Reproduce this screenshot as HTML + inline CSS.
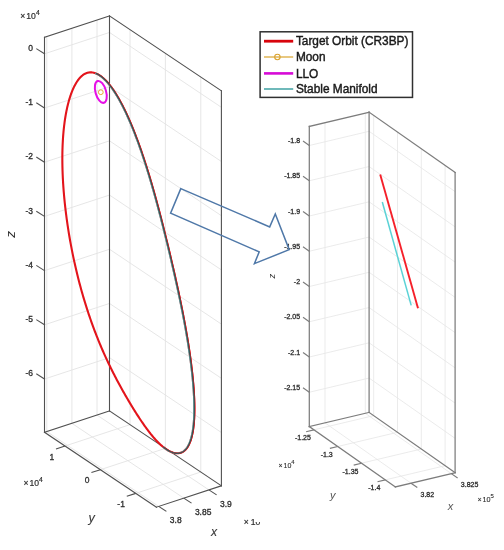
<!DOCTYPE html>
<html><head><meta charset="utf-8"><title>Orbit figure</title>
<style>
html,body{margin:0;padding:0;background:#fff;}
body{width:504px;height:550px;overflow:hidden;}
svg{display:block;}
text{font-family:"Liberation Sans",sans-serif;}
</style></head>
<body>
<svg width="504" height="550" viewBox="0 0 504 550">
<defs><clipPath id="clipx5"><path d="M0,0 H254.6 V522 H504 V550 H0 Z"/></clipPath></defs>
<rect width="504" height="550" fill="#fff"/>
<g>
<g fill="none">
<line x1="46.8" y1="36.54" x2="46.8" y2="431.54" stroke="#e3e3e3" stroke-width="0.9"/>
<line x1="71.9" y1="28.3" x2="71.9" y2="423.3" stroke="#e3e3e3" stroke-width="0.9"/>
<line x1="97" y1="20.06" x2="97" y2="415.06" stroke="#e3e3e3" stroke-width="0.9"/>
<line x1="44.5" y1="53.8" x2="109.5" y2="32.45" stroke="#e3e3e3" stroke-width="0.9"/>
<line x1="44.5" y1="108" x2="109.5" y2="86.65" stroke="#e3e3e3" stroke-width="0.9"/>
<line x1="44.5" y1="162.2" x2="109.5" y2="140.85" stroke="#e3e3e3" stroke-width="0.9"/>
<line x1="44.5" y1="216.4" x2="109.5" y2="195.05" stroke="#e3e3e3" stroke-width="0.9"/>
<line x1="44.5" y1="270.6" x2="109.5" y2="249.25" stroke="#e3e3e3" stroke-width="0.9"/>
<line x1="44.5" y1="324.8" x2="109.5" y2="303.45" stroke="#e3e3e3" stroke-width="0.9"/>
<line x1="44.5" y1="379" x2="109.5" y2="357.65" stroke="#e3e3e3" stroke-width="0.9"/>
<line x1="130" y1="29.66" x2="130" y2="424.66" stroke="#e3e3e3" stroke-width="0.9"/>
<line x1="165.4" y1="53.34" x2="165.4" y2="448.34" stroke="#e3e3e3" stroke-width="0.9"/>
<line x1="200.8" y1="77.02" x2="200.8" y2="472.02" stroke="#e3e3e3" stroke-width="0.9"/>
<line x1="109.5" y1="32.45" x2="221.4" y2="107.3" stroke="#e3e3e3" stroke-width="0.9"/>
<line x1="109.5" y1="86.65" x2="221.4" y2="161.5" stroke="#e3e3e3" stroke-width="0.9"/>
<line x1="109.5" y1="140.85" x2="221.4" y2="215.7" stroke="#e3e3e3" stroke-width="0.9"/>
<line x1="109.5" y1="195.05" x2="221.4" y2="269.9" stroke="#e3e3e3" stroke-width="0.9"/>
<line x1="109.5" y1="249.25" x2="221.4" y2="324.1" stroke="#e3e3e3" stroke-width="0.9"/>
<line x1="109.5" y1="303.45" x2="221.4" y2="378.3" stroke="#e3e3e3" stroke-width="0.9"/>
<line x1="109.5" y1="357.65" x2="221.4" y2="432.5" stroke="#e3e3e3" stroke-width="0.9"/>
<line x1="46.8" y1="431.54" x2="158.7" y2="506.39" stroke="#e3e3e3" stroke-width="0.9"/>
<line x1="71.9" y1="423.3" x2="183.8" y2="498.15" stroke="#e3e3e3" stroke-width="0.9"/>
<line x1="97" y1="415.06" x2="208.9" y2="489.91" stroke="#e3e3e3" stroke-width="0.9"/>
<line x1="65" y1="446.01" x2="130" y2="424.66" stroke="#e3e3e3" stroke-width="0.9"/>
<line x1="100.4" y1="469.69" x2="165.4" y2="448.34" stroke="#e3e3e3" stroke-width="0.9"/>
<line x1="135.8" y1="493.37" x2="200.8" y2="472.02" stroke="#e3e3e3" stroke-width="0.9"/>
</g>
<g stroke-linecap="square">
<line x1="44.5" y1="37.3" x2="44.5" y2="432.3" stroke="#505050" stroke-width="1.1"/>
<line x1="109.5" y1="15.95" x2="109.5" y2="410.95" stroke="#505050" stroke-width="1.1"/>
<line x1="221.4" y1="90.8" x2="221.4" y2="485.8" stroke="#505050" stroke-width="1.1"/>
<line x1="44.5" y1="37.3" x2="109.5" y2="15.95" stroke="#505050" stroke-width="1.1"/>
<line x1="109.5" y1="15.95" x2="221.4" y2="90.8" stroke="#505050" stroke-width="1.1"/>
<line x1="44.5" y1="432.3" x2="109.5" y2="410.95" stroke="#505050" stroke-width="1.1"/>
<line x1="109.5" y1="410.95" x2="221.4" y2="485.8" stroke="#505050" stroke-width="1.1"/>
<line x1="44.5" y1="432.3" x2="156.4" y2="507.15" stroke="#505050" stroke-width="1.1"/>
<line x1="156.4" y1="507.15" x2="221.4" y2="485.8" stroke="#505050" stroke-width="1.1"/>
</g>
<line x1="44.5" y1="53.8" x2="36.3" y2="48.6" stroke="#505050" stroke-width="1.1"/>
<text transform="translate(33,50.9) scale(1,1.12)" font-size="8.5" text-anchor="end" fill="#2e2e2e" font-family="&quot;Liberation Sans&quot;, sans-serif" stroke="#2e2e2e" stroke-width="0.3">0</text>
<line x1="44.5" y1="108" x2="36.3" y2="102.8" stroke="#505050" stroke-width="1.1"/>
<text transform="translate(33,105.1) scale(1,1.12)" font-size="8.5" text-anchor="end" fill="#2e2e2e" font-family="&quot;Liberation Sans&quot;, sans-serif" stroke="#2e2e2e" stroke-width="0.3">-1</text>
<line x1="44.5" y1="162.2" x2="36.3" y2="157" stroke="#505050" stroke-width="1.1"/>
<text transform="translate(33,159.3) scale(1,1.12)" font-size="8.5" text-anchor="end" fill="#2e2e2e" font-family="&quot;Liberation Sans&quot;, sans-serif" stroke="#2e2e2e" stroke-width="0.3">-2</text>
<line x1="44.5" y1="216.4" x2="36.3" y2="211.2" stroke="#505050" stroke-width="1.1"/>
<text transform="translate(33,213.5) scale(1,1.12)" font-size="8.5" text-anchor="end" fill="#2e2e2e" font-family="&quot;Liberation Sans&quot;, sans-serif" stroke="#2e2e2e" stroke-width="0.3">-3</text>
<line x1="44.5" y1="270.6" x2="36.3" y2="265.4" stroke="#505050" stroke-width="1.1"/>
<text transform="translate(33,267.7) scale(1,1.12)" font-size="8.5" text-anchor="end" fill="#2e2e2e" font-family="&quot;Liberation Sans&quot;, sans-serif" stroke="#2e2e2e" stroke-width="0.3">-4</text>
<line x1="44.5" y1="324.8" x2="36.3" y2="319.6" stroke="#505050" stroke-width="1.1"/>
<text transform="translate(33,321.9) scale(1,1.12)" font-size="8.5" text-anchor="end" fill="#2e2e2e" font-family="&quot;Liberation Sans&quot;, sans-serif" stroke="#2e2e2e" stroke-width="0.3">-5</text>
<line x1="44.5" y1="379" x2="36.3" y2="373.8" stroke="#505050" stroke-width="1.1"/>
<text transform="translate(33,376.1) scale(1,1.12)" font-size="8.5" text-anchor="end" fill="#2e2e2e" font-family="&quot;Liberation Sans&quot;, sans-serif" stroke="#2e2e2e" stroke-width="0.3">-6</text>
<line x1="65" y1="446.01" x2="56" y2="448.91" stroke="#505050" stroke-width="1.1"/>
<text transform="translate(54.1,459.71) scale(1,1.12)" font-size="8.5" text-anchor="end" fill="#2e2e2e" font-family="&quot;Liberation Sans&quot;, sans-serif" stroke="#2e2e2e" stroke-width="0.3">1</text>
<line x1="100.4" y1="469.69" x2="91.4" y2="472.59" stroke="#505050" stroke-width="1.1"/>
<text transform="translate(89.5,483.39) scale(1,1.12)" font-size="8.5" text-anchor="end" fill="#2e2e2e" font-family="&quot;Liberation Sans&quot;, sans-serif" stroke="#2e2e2e" stroke-width="0.3">0</text>
<line x1="135.8" y1="493.37" x2="126.8" y2="496.27" stroke="#505050" stroke-width="1.1"/>
<text transform="translate(124.9,507.07) scale(1,1.12)" font-size="8.5" text-anchor="end" fill="#2e2e2e" font-family="&quot;Liberation Sans&quot;, sans-serif" stroke="#2e2e2e" stroke-width="0.3">-1</text>
<line x1="158.7" y1="506.39" x2="166.4" y2="511.39" stroke="#505050" stroke-width="1.1"/>
<text transform="translate(169.8,523.09) scale(1,1.12)" font-size="8.5" text-anchor="start" fill="#2e2e2e" font-family="&quot;Liberation Sans&quot;, sans-serif" stroke="#2e2e2e" stroke-width="0.3">3.8</text>
<line x1="183.8" y1="498.15" x2="191.5" y2="503.15" stroke="#505050" stroke-width="1.1"/>
<text transform="translate(194.9,514.85) scale(1,1.12)" font-size="8.5" text-anchor="start" fill="#2e2e2e" font-family="&quot;Liberation Sans&quot;, sans-serif" stroke="#2e2e2e" stroke-width="0.3">3.85</text>
<line x1="208.9" y1="489.91" x2="216.6" y2="494.91" stroke="#505050" stroke-width="1.1"/>
<text transform="translate(220,506.61) scale(1,1.12)" font-size="8.5" text-anchor="start" fill="#2e2e2e" font-family="&quot;Liberation Sans&quot;, sans-serif" stroke="#2e2e2e" stroke-width="0.3">3.9</text>
<text x="20.3" y="19.2" font-size="8.6" fill="#2e2e2e" stroke="#2e2e2e" stroke-width="0.2" font-family="&quot;Liberation Sans&quot;, sans-serif">&#215;<tspan dx="1.0">10</tspan><tspan font-size="6.8" dy="-4.2">4</tspan></text>
<text x="23.4" y="485.8" font-size="8.6" fill="#2e2e2e" stroke="#2e2e2e" stroke-width="0.2" font-family="&quot;Liberation Sans&quot;, sans-serif">&#215;<tspan dx="1.0">10</tspan><tspan font-size="6.8" dy="-4.2">4</tspan></text>
<g clip-path="url(#clipx5)"><text x="243.8" y="525.4" font-size="8.6" fill="#2e2e2e" stroke="#2e2e2e" stroke-width="0.2" font-family="&quot;Liberation Sans&quot;, sans-serif">&#215;<tspan dx="2.0">10</tspan><tspan font-size="6.8" dy="-4.2">5</tspan></text></g>
<text x="91.6" y="522.3" font-size="12.6" text-anchor="middle" fill="#3a3a3a" font-family="&quot;Liberation Serif&quot;, serif" font-style="italic" stroke="#3a3a3a" stroke-width="0.1">y</text>
<text x="214" y="535.8" font-size="12.2" text-anchor="middle" fill="#3a3a3a" font-family="&quot;Liberation Serif&quot;, serif" font-style="italic" stroke="#3a3a3a" stroke-width="0.1">x</text>
<text x="0" y="0" font-size="13.5" text-anchor="middle" fill="#2e2e2e" font-family="&quot;Liberation Serif&quot;, serif" font-style="italic" transform="translate(15.0,234.3) rotate(-90)">z</text>
<path d="M77.54,275.52 L77.97,277.25 L78.4,278.97 L78.84,280.69 L79.29,282.4 L79.74,284.12 L80.19,285.82 L80.66,287.52 L81.12,289.22 L81.59,290.91 L82.07,292.59 L82.55,294.26 L83.03,295.93 L83.52,297.6 L84.01,299.25 L84.51,300.9 L85.01,302.54 L85.51,304.18 L86.02,305.8 L86.53,307.42 L87.04,309.03 L87.56,310.63 L88.09,312.22 L88.61,313.8 L89.14,315.37 L89.67,316.93 L90.21,318.49 L90.74,320.03 L91.28,321.56 L91.82,323.08 L92.37,324.6 L92.92,326.1 L93.47,327.59 L94.02,329.07 L94.57,330.54 L95.13,332 L95.68,333.45 L96.24,334.89 L96.8,336.32 L97.36,337.73 L97.93,339.14 L98.49,340.53 L99.05,341.91 L99.62,343.28 L100.19,344.64 L100.76,345.99 L101.32,347.33 L101.89,348.66 L102.46,349.97 L103.03,351.28 L103.6,352.57 L104.17,353.85 L104.74,355.12 L105.31,356.38 L105.88,357.63 L106.45,358.87 L107.02,360.1 L107.59,361.31 L108.16,362.52 L108.73,363.71 L109.3,364.9 L109.87,366.07 L110.43,367.24 L111,368.39 L111.57,369.53 L112.13,370.67 L112.69,371.79 L113.26,372.9 L113.82,374.01 L114.38,375.1 L114.94,376.19 L115.5,377.27 L116.05,378.33 L116.61,379.39 L117.16,380.44 L117.72,381.48 L118.27,382.51 L118.82,383.53 L119.37,384.55 L119.92,385.56 L120.46,386.55 L121.01,387.54 L121.55,388.53 L122.09,389.5 L122.63,390.47 L123.17,391.43 L123.71,392.38 L124.25,393.32 L124.78,394.26 L125.31,395.19 L125.85,396.12 L126.38,397.03 L126.91,397.94 L127.43,398.85 L127.96,399.74 L128.49,400.63 L129.01,401.52 L129.53,402.4 L130.05,403.27 L130.57,404.13 L131.09,404.99 L131.61,405.85 L132.13,406.69 L132.64,407.53 L133.16,408.37 L133.67,409.2 L134.18,410.03 L134.69,410.84 L135.2,411.66 L135.71,412.46 L136.22,413.27 L136.73,414.06 L137.24,414.85 L137.74,415.64 L138.25,416.42 L138.75,417.19 L139.26,417.96 L139.76,418.73 L140.26,419.48 L140.77,420.24 L141.27,420.98 L141.77,421.72 L142.27,422.46 L142.77,423.19 L143.28,423.91 L143.78,424.63 L144.28,425.34 L144.78,426.05 L145.28,426.75 L145.78,427.44 L146.28,428.13 L146.78,428.81 L147.28,429.49 L147.78,430.16 L148.28,430.82 L148.78,431.48 L149.28,432.13 L149.78,432.77 L150.28,433.4 L150.78,434.03 L151.28,434.65 L151.78,435.27 L152.28,435.88 L152.78,436.48 L153.28,437.07 L153.78,437.65 L154.28,438.23 L154.78,438.8 L155.28,439.36 L155.78,439.91 L156.29,440.45 L156.79,440.99 L157.29,441.51 L157.79,442.03 L158.29,442.54 L158.79,443.04 L159.29,443.53 L159.8,444.01 L160.3,444.48 L160.8,444.94 L161.3,445.39 L161.8,445.83 L162.3,446.26 L162.8,446.68 L163.3,447.09 L163.79,447.48 L164.29,447.87 L164.79,448.24 L165.29,448.6 L165.78,448.96 L166.28,449.29 L166.77,449.62 L167.26,449.94 L167.76,450.24 L168.25,450.53 L168.74,450.8 L169.23,451.06 L169.71,451.31 L170.2,451.55 L170.68,451.77 L171.16,451.98 L171.64,452.17 L172.12,452.35 L172.6,452.52 L173.07,452.67 L173.54,452.8 L174.01,452.92 L174.48,453.02 L174.94,453.11 L175.41,453.19 L175.87,453.24 L176.32,453.28 L176.77,453.31 L177.22,453.31 L177.67,453.3 L178.11,453.28 L178.55,453.23 L178.99,453.17 L179.42,453.09 L179.85,453 L180.27,452.88 L180.69,452.75 L181.11,452.6 L181.52,452.43 L181.93,452.24 L182.33,452.03 L182.73,451.8 L183.12,451.56 L183.51,451.29 L183.89,451.01 L184.27,450.71 L184.64,450.38 L185.01,450.04 L185.37,449.68 L185.72,449.29 L186.07,448.89 L186.42,448.47 L186.75,448.02 L187.08,447.56 L187.41,447.07 L187.73,446.57 L188.04,446.04 L188.34,445.49 L188.64,444.92 L188.93,444.33 L189.22,443.72 L189.5,443.09 L189.77,442.44 L190.03,441.77 L190.29,441.07 L190.54,440.36 L190.78,439.62 L191.01,438.86 L191.24,438.08 L191.46,437.28 L191.67,436.46 L191.87,435.62 L192.07,434.76 L192.25,433.88 L192.43,432.97 L192.61,432.05 L192.77,431.11 L192.93,430.14 L193.07,429.16 L193.21,428.15 L193.34,427.13 L193.47,426.09 L193.58,425.02 L193.69,423.94 L193.79,422.84 L193.88,421.72 L193.96,420.58 L194.04,419.42 L194.1,418.24 L194.16,417.05 L194.21,415.84 L194.25,414.61 L194.28,413.36 L194.31,412.1 L194.33,410.82 L194.33,409.52 L194.34,408.21 L194.33,406.88 L194.31,405.54 L194.29,404.18 L194.26,402.81 L194.22,401.42 L194.17,400.02 L194.12,398.6 L194.06,397.17 L193.99,395.73 L193.91,394.28 L193.83,392.81 L193.74,391.33 L193.64,389.84 L193.53,388.34 L193.42,386.83 L193.3,385.31 L193.18,383.78 L193.04,382.24 L192.9,380.69 L192.76,379.13 L192.6,377.56 L192.44,375.99 L192.28,374.4 L192.11,372.82 L191.93,371.22 L191.75,369.62 L191.56,368.01 L191.36,366.4 L191.16,364.78 L190.96,363.16 L190.75,361.53 L190.53,359.9 L190.31,358.26 L190.08,356.62 L189.85,354.98 L189.62,353.34 L189.38,351.7 L189.13,350.05 L188.88,348.4 L188.63,346.75 L188.37,345.1 L188.11,343.45 L187.85,341.8 L187.58,340.15 L187.31,338.5 L187.03,336.85 L186.75,335.2 L186.47,333.56 L186.18,331.91 L185.9,330.27 L185.6,328.63 L185.31,326.99 L185.01,325.35 L184.71,323.72 L184.41,322.09 L184.11,320.46 L183.8,318.83 L183.49,317.21 L183.18,315.59 L182.87,313.97 L182.55,312.36 L182.24,310.75 L181.92,309.15 L181.6,307.55 L181.28,305.95 L180.95,304.36 L180.63,302.77 L180.3,301.18 L179.98,299.6 L179.65,298.02 L179.32,296.45 L178.99,294.88 L178.65,293.31 L178.32,291.75 L177.99,290.19 L177.65,288.64 L177.31,287.08 L176.98,285.54 L176.64,283.99 L176.3,282.45 L175.96,280.91 L175.62,279.38 L175.28,277.85 L174.93,276.32 L174.59,274.79 L174.24,273.26 L173.9,271.74 L173.55,270.22 L173.21,268.71 L172.86,267.19 L172.51,265.68 L172.16,264.16 L171.81,262.65 L171.46,261.14 L171.1,259.63 L170.75,258.12 L170.39,256.61 L170.04,255.11 L169.68,253.6 L169.32,252.09 L168.96,250.58 L168.6,249.08 L168.24,247.57 L167.87,246.06 L167.51,244.55 L167.14,243.04 L166.78,241.52 L166.41,240.01 L166.03,238.49 L165.66,236.98 L165.29,235.46 L164.91,233.94 L164.53,232.41 L164.15,230.89 L163.77,229.36 L163.38,227.83 L163,226.3 L162.61,224.76 L162.22,223.22 L161.82,221.68 L161.43,220.14 L161.03,218.59 L160.63,217.05 L160.23,215.49 L159.82,213.94 L159.41,212.38 L159,210.82 L158.59,209.26 L158.17,207.69 L157.75,206.12 L157.33,204.55 L156.9,202.97 L156.47,201.4 L156.04,199.82 L155.61,198.23 L155.17,196.65 L154.73,195.06 L154.29,193.47 L153.84,191.88 L153.39,190.29 L152.93,188.7 L152.48,187.1 L152.02,185.51 L151.55,183.91 L151.09,182.31 L150.61,180.71 L150.14,179.11 L149.66,177.52 L149.18,175.92 L148.7,174.32 L148.21,172.72 L147.72,171.13 L147.23,169.54 L146.73,167.94 L146.23,166.35 L145.72,164.77 L145.21,163.18 L144.7,161.6 L144.19,160.02 L143.67,158.45 L143.15,156.88 L142.63,155.32 L142.1,153.76 L141.57,152.2 L141.04,150.65 L140.5,149.11 L139.96,147.57 L139.42,146.04 L138.88,144.52 L138.33,143.01 L137.78,141.5 L137.23,140 L136.67,138.52 L136.12,137.04 L135.56,135.57 L134.99,134.11 L134.43,132.66 L133.86,131.22 L133.3,129.79 L132.73,128.38 L132.15,126.97 L131.58,125.58 L131.01,124.2 L130.43,122.84 L129.85,121.49 L129.27,120.15 L128.69,118.83 L128.11,117.52 L127.52,116.22 L126.94,114.94 L126.35,113.68 L125.77,112.43 L125.18,111.2 L124.6,109.99 L124.01,108.79 L123.42,107.61 L122.83,106.44 L122.25,105.3 L121.66,104.17 L121.07,103.06 L120.48,101.97 L119.9,100.89 L119.31,99.84 L118.72,98.8 L118.14,97.78 L117.55,96.79 L116.97,95.81 L116.39,94.85 L115.8,93.91 L115.22,92.99 L114.64,92.09 L114.07,91.21 L113.49,90.35 L112.91,89.51 L112.34,88.7 L111.77,87.9 L111.2,87.12 L110.63,86.36 L110.07,85.63 L109.5,84.91 L108.94,84.22 L108.38,83.54 L107.83,82.89 L107.27,82.26 L106.72,81.64 L106.17,81.05 L105.63,80.48 L105.08,79.93 L104.54,79.4 L104,78.89 L103.47,78.4 L102.94,77.93 L102.41,77.48 L101.88,77.05 L101.36,76.64 L100.84,76.25 L100.33,75.88 L99.81,75.53 L99.31,75.2 L98.8,74.89 L98.3,74.59 L97.8,74.32 L97.3,74.06 L96.81,73.83 L96.33,73.61 L95.84,73.41 L95.36,73.23 L94.88,73.06 L94.41,72.92 L93.94,72.79 L93.48,72.67 L93.02,72.58 L92.56,72.5 L92.1,72.44 L91.65,72.4 L91.21,72.37 L90.77,72.36 L90.33,72.36 L89.89,72.38 L89.46,72.42 L89.03,72.47 L88.61,72.54 L88.19,72.62 L87.78,72.72 L87.37,72.83 L86.96,72.95 L86.56,73.09 L86.16,73.24 L85.76,73.41 L85.37,73.59 L84.98,73.78 L84.6,73.99 L84.21,74.21 L83.84,74.44 L83.46,74.69 L83.1,74.95 L82.73,75.22 L82.37,75.5 L82.01,75.79 L81.66,76.1 L81.3,76.41 L80.96,76.74 L80.61,77.08 L80.27,77.43 L79.94,77.79 L79.61,78.16 L79.28,78.55 L78.95,78.94 L78.63,79.34 L78.31,79.76 L77.99,80.18 L77.68,80.61 L77.37,81.06 L77.07,81.51 L76.77,81.97 L76.47,82.44 L76.17,82.92 L75.88,83.41 L75.59,83.91 L75.31,84.42 L75.03,84.93 L74.75,85.46 L74.47,85.99 L74.2,86.54 L73.93,87.09 L73.66,87.65 L73.4,88.21 L73.14,88.79 L72.88,89.37 L72.63,89.97 L72.38,90.57 L72.13,91.18 L71.89,91.79 L71.64,92.42 L71.4,93.05 L71.17,93.69 L70.94,94.34 L70.71,94.99 L70.48,95.66 L70.26,96.33 L70.03,97.01 L69.82,97.69 L69.6,98.39 L69.39,99.09 L69.18,99.8 L68.97,100.51 L68.77,101.24 L68.57,101.97 L68.37,102.71 L68.17,103.46 L67.98,104.22 L67.79,104.98 L67.61,105.75 L67.42,106.53 L67.24,107.32 L67.06,108.11 L66.89,108.92 L66.72,109.73 L66.55,110.55 L66.38,111.37 L66.22,112.21 L66.06,113.05 L65.9,113.9 L65.75,114.76 L65.6,115.63 L65.45,116.5 L65.31,117.39 L65.16,118.28 L65.02,119.18 L64.89,120.09 L64.76,121.01 L64.63,121.94 L64.5,122.88 L64.38,123.82 L64.26,124.78 L64.14,125.74 L64.03,126.71 L63.92,127.69 L63.81,128.68 L63.71,129.68 L63.61,130.69 L63.51,131.71 L63.42,132.74 L63.33,133.78 L63.24,134.83 L63.16,135.88 L63.08,136.95 L63.01,138.03 L62.94,139.12 L62.87,140.21 L62.81,141.32 L62.75,142.44 L62.69,143.57 L62.64,144.71 L62.59,145.86 L62.55,147.02 L62.51,148.19 L62.47,149.37 L62.44,150.56 L62.41,151.76 L62.39,152.98 L62.37,154.2 L62.36,155.44 L62.35,156.68 L62.34,157.94 L62.34,159.21 L62.35,160.49 L62.36,161.78 L62.37,163.08 L62.39,164.39 L62.41,165.71 L62.44,167.05 L62.47,168.39 L62.51,169.75 L62.55,171.12 L62.6,172.5 L62.65,173.88 L62.71,175.29 L62.78,176.7 L62.84,178.12 L62.92,179.55 L63,180.99 L63.08,182.45 L63.17,183.91 L63.27,185.39 L63.37,186.87 L63.48,188.37 L63.59,189.88 L63.71,191.39 L63.84,192.92 L63.97,194.45 L64.11,196 L64.25,197.55 L64.4,199.12 L64.55,200.69 L64.71,202.28 L64.88,203.87 L65.05,205.47 L65.23,207.08 L65.42,208.69 L65.61,210.32 L65.81,211.95 L66.01,213.59 L66.22,215.24 L66.44,216.9 L66.66,218.56 L66.89,220.23 L67.13,221.91 L67.37,223.59 L67.62,225.28 L67.87,226.97 L68.13,228.67 L68.4,230.38 L68.67,232.09 L68.95,233.8 L69.24,235.52 L69.53,237.24 L69.83,238.97 L70.14,240.7 L70.45,242.43 L70.77,244.17 L71.09,245.91 L71.43,247.65 L71.76,249.39 L72.11,251.13 L72.45,252.88 L72.81,254.62 L73.17,256.37 L73.54,258.12 L73.91,259.86 L74.29,261.61 L74.68,263.35 L75.07,265.1 L75.47,266.84 L75.87,268.58 L76.28,270.32 L76.69,272.06 L77.11,273.79 L77.54,275.52 Z" fill="none" stroke="#e3141b" stroke-width="2.1" stroke-linejoin="round"/>
<path d="M163.29,447.08 L163.86,447.53 L164.43,447.97 L165,448.4 L165.57,448.81 L166.14,449.2 L166.71,449.58 L167.27,449.94 L167.84,450.29 L168.4,450.61 L168.96,450.92 L169.52,451.22 L170.08,451.49 L170.64,451.75 L171.19,451.99 L171.74,452.21 L172.29,452.41 L172.83,452.59 L173.38,452.75 L173.92,452.9 L174.45,453.02 L174.99,453.12 L175.52,453.2 L176.04,453.26 L176.56,453.3 L177.08,453.31 L177.59,453.31 L178.1,453.28 L178.61,453.23 L179.11,453.15 L179.6,453.05 L180.09,452.93 L180.58,452.79 L181.05,452.62 L181.53,452.42 L181.99,452.21 L182.45,451.96 L182.91,451.7 L183.36,451.4 L183.8,451.08 L184.23,450.74 L184.66,450.37 L185.08,449.97 L185.49,449.55 L185.9,449.1 L186.29,448.62 L186.68,448.12 L187.06,447.59 L187.44,447.03 L187.8,446.44 L188.16,445.83 L188.5,445.19 L188.84,444.53 L189.17,443.83 L189.49,443.11 L189.8,442.36 L190.1,441.58 L190.39,440.78 L190.67,439.94 L190.94,439.08 L191.21,438.19 L191.46,437.28 L191.7,436.33 L191.93,435.36 L192.15,434.36 L192.36,433.34 L192.56,432.28 L192.75,431.2 L192.93,430.1 L193.1,428.96 L193.26,427.81 L193.41,426.62 L193.54,425.41 L193.67,424.17 L193.78,422.91 L193.89,421.62 L193.98,420.31 L194.06,418.98 L194.13,417.62 L194.19,416.24 L194.24,414.83 L194.28,413.4 L194.31,411.95 L194.33,410.48 L194.34,408.98 L194.33,407.47 L194.32,405.93 L194.29,404.37 L194.26,402.8 L194.21,401.2 L194.16,399.59 L194.09,397.96 L194.02,396.31 L193.93,394.65 L193.84,392.97 L193.73,391.27 L193.62,389.56 L193.5,387.83 L193.36,386.09 L193.22,384.34 L193.07,382.57 L192.91,380.79 L192.74,379.01 L192.57,377.2 L192.38,375.39 L192.19,373.57 L191.99,371.75 L191.78,369.91 L191.56,368.06 L191.34,366.21 L191.11,364.35 L190.87,362.49 L190.63,360.62 L190.37,358.74 L190.12,356.86 L189.85,354.98 L189.58,353.09 L189.3,351.2 L189.02,349.31 L188.73,347.42 L188.44,345.53 L188.14,343.63 L187.84,341.74 L187.53,339.84 L187.21,337.95 L186.9,336.06 L186.57,334.16 L186.25,332.28 L185.92,330.39 L185.58,328.5 L185.24,326.62 L184.9,324.74 L184.56,322.87 L184.21,321 L183.86,319.13 L183.5,317.27 L183.15,315.41 L182.79,313.55 L182.43,311.71 L182.06,309.86 L181.69,308.02 L181.33,306.19 L180.95,304.36 L180.58,302.53 L180.21,300.71 L179.83,298.9 L179.45,297.09 L179.07,295.29 L178.69,293.49 L178.31,291.69 L177.92,289.9 L177.54,288.12 L177.15,286.34 L176.76,284.57 L176.37,282.8 L175.98,281.03 L175.59,279.27 L175.2,277.51 L174.81,275.75 L174.41,274 L174.02,272.25 L173.62,270.51 L173.22,268.77 L172.82,267.03 L172.42,265.29 L172.02,263.55 L171.61,261.82 L171.21,260.08 L170.8,258.35 L170.39,256.62 L169.99,254.89 L169.58,253.16 L169.16,251.43 L168.75,249.7 L168.33,247.96 L167.92,246.23 L167.5,244.5 L167.08,242.76 L166.65,241.03 L166.23,239.29 L165.8,237.55 L165.37,235.8 L164.94,234.06 L164.5,232.31 L164.07,230.56 L163.63,228.8 L163.19,227.04 L162.74,225.28 L162.29,223.52 L161.84,221.75 L161.39,219.98 L160.93,218.2 L160.47,216.42 L160,214.64 L159.54,212.85 L159.06,211.06 L158.59,209.27 L158.11,207.47 L157.63,205.67 L157.14,203.86 L156.65,202.05 L156.16,200.24 L155.66,198.42 L155.16,196.6 L154.65,194.78 L154.14,192.96 L153.63,191.13 L153.11,189.3 L152.58,187.47 L152.05,185.64 L151.52,183.8 L150.98,181.97 L150.44,180.13 L149.9,178.3 L149.35,176.46 L148.79,174.63 L148.23,172.8 L147.67,170.97 L147.1,169.14 L146.53,167.31 L145.95,165.49 L145.37,163.67 L144.78,161.85 L144.19,160.04 L143.6,158.23 L143,156.43 L142.4,154.64 L141.79,152.85 L141.18,151.07 L140.57,149.3 L139.95,147.53 L139.33,145.78 L138.7,144.03 L138.07,142.3 L137.44,140.57 L136.8,138.86 L136.16,137.16 L135.52,135.48 L134.88,133.8 L134.23,132.14 L133.58,130.5 L132.92,128.86 L132.27,127.25 L131.61,125.65 L130.95,124.07 L130.29,122.5 L129.62,120.96 L128.96,119.43 L128.29,117.92 L127.62,116.43 L126.95,114.96 L126.28,113.51 L125.6,112.08 L124.93,110.68 L124.26,109.29 L123.58,107.93 L122.91,106.59 L122.23,105.27 L121.56,103.98 L120.88,102.71 L120.21,101.46 L119.53,100.24 L118.86,99.04 L118.19,97.87 L117.52,96.73 L116.85,95.61 L116.18,94.51 L115.51,93.44 L114.85,92.4 L114.18,91.39 L113.52,90.4 L112.86,89.44 L112.2,88.5 L111.55,87.59 L110.89,86.71 L110.24,85.86 L109.6,85.03 L108.95,84.23 L108.31,83.46 L107.67,82.71 L107.04,81.99 L106.41,81.3 L105.78,80.64 L105.15,80 L104.53,79.39 L103.91,78.81 L103.3,78.25 L102.69,77.72 L102.09,77.22 L101.49,76.74 L100.89,76.29 L100.3,75.86 L99.71,75.46 L99.13,75.09 L98.55,74.74 L97.97,74.41 L97.41,74.11 L96.84,73.84 L96.28,73.59 L95.73,73.36" fill="none" stroke="#5fd3d3" stroke-width="1.2" transform="translate(-0.45,0)"/>
<path d="M163.29,447.08 L163.86,447.53 L164.43,447.97 L165,448.4 L165.57,448.81 L166.14,449.2 L166.71,449.58 L167.27,449.94 L167.84,450.29 L168.4,450.61 L168.96,450.92 L169.52,451.22 L170.08,451.49 L170.64,451.75 L171.19,451.99 L171.74,452.21 L172.29,452.41 L172.83,452.59 L173.38,452.75 L173.92,452.9 L174.45,453.02 L174.99,453.12 L175.52,453.2 L176.04,453.26 L176.56,453.3 L177.08,453.31 L177.59,453.31 L178.1,453.28 L178.61,453.23 L179.11,453.15 L179.6,453.05 L180.09,452.93 L180.58,452.79 L181.05,452.62 L181.53,452.42 L181.99,452.21 L182.45,451.96 L182.91,451.7 L183.36,451.4 L183.8,451.08 L184.23,450.74 L184.66,450.37 L185.08,449.97 L185.49,449.55 L185.9,449.1 L186.29,448.62 L186.68,448.12 L187.06,447.59 L187.44,447.03 L187.8,446.44 L188.16,445.83 L188.5,445.19 L188.84,444.53 L189.17,443.83 L189.49,443.11 L189.8,442.36 L190.1,441.58 L190.39,440.78 L190.67,439.94 L190.94,439.08 L191.21,438.19 L191.46,437.28 L191.7,436.33 L191.93,435.36 L192.15,434.36 L192.36,433.34 L192.56,432.28 L192.75,431.2 L192.93,430.1 L193.1,428.96 L193.26,427.81 L193.41,426.62 L193.54,425.41 L193.67,424.17 L193.78,422.91 L193.89,421.62 L193.98,420.31 L194.06,418.98 L194.13,417.62 L194.19,416.24 L194.24,414.83 L194.28,413.4 L194.31,411.95 L194.33,410.48 L194.34,408.98 L194.33,407.47 L194.32,405.93 L194.29,404.37 L194.26,402.8 L194.21,401.2 L194.16,399.59 L194.09,397.96 L194.02,396.31 L193.93,394.65 L193.84,392.97 L193.73,391.27 L193.62,389.56 L193.5,387.83 L193.36,386.09 L193.22,384.34 L193.07,382.57 L192.91,380.79 L192.74,379.01 L192.57,377.2 L192.38,375.39 L192.19,373.57 L191.99,371.75 L191.78,369.91 L191.56,368.06 L191.34,366.21 L191.11,364.35 L190.87,362.49 L190.63,360.62 L190.37,358.74 L190.12,356.86 L189.85,354.98 L189.58,353.09 L189.3,351.2 L189.02,349.31 L188.73,347.42 L188.44,345.53 L188.14,343.63 L187.84,341.74 L187.53,339.84 L187.21,337.95 L186.9,336.06 L186.57,334.16 L186.25,332.28 L185.92,330.39 L185.58,328.5 L185.24,326.62 L184.9,324.74 L184.56,322.87 L184.21,321 L183.86,319.13 L183.5,317.27 L183.15,315.41 L182.79,313.55 L182.43,311.71 L182.06,309.86 L181.69,308.02 L181.33,306.19 L180.95,304.36 L180.58,302.53 L180.21,300.71 L179.83,298.9 L179.45,297.09 L179.07,295.29 L178.69,293.49 L178.31,291.69 L177.92,289.9 L177.54,288.12 L177.15,286.34 L176.76,284.57 L176.37,282.8 L175.98,281.03 L175.59,279.27 L175.2,277.51 L174.81,275.75 L174.41,274 L174.02,272.25 L173.62,270.51 L173.22,268.77 L172.82,267.03 L172.42,265.29 L172.02,263.55 L171.61,261.82 L171.21,260.08 L170.8,258.35 L170.39,256.62 L169.99,254.89 L169.58,253.16 L169.16,251.43 L168.75,249.7 L168.33,247.96 L167.92,246.23 L167.5,244.5 L167.08,242.76 L166.65,241.03 L166.23,239.29 L165.8,237.55 L165.37,235.8 L164.94,234.06 L164.5,232.31 L164.07,230.56 L163.63,228.8 L163.19,227.04 L162.74,225.28 L162.29,223.52 L161.84,221.75 L161.39,219.98 L160.93,218.2 L160.47,216.42 L160,214.64 L159.54,212.85 L159.06,211.06 L158.59,209.27 L158.11,207.47 L157.63,205.67 L157.14,203.86 L156.65,202.05 L156.16,200.24 L155.66,198.42 L155.16,196.6 L154.65,194.78 L154.14,192.96 L153.63,191.13 L153.11,189.3 L152.58,187.47 L152.05,185.64 L151.52,183.8 L150.98,181.97 L150.44,180.13 L149.9,178.3 L149.35,176.46 L148.79,174.63 L148.23,172.8 L147.67,170.97 L147.1,169.14 L146.53,167.31 L145.95,165.49 L145.37,163.67 L144.78,161.85 L144.19,160.04 L143.6,158.23 L143,156.43 L142.4,154.64 L141.79,152.85 L141.18,151.07 L140.57,149.3 L139.95,147.53 L139.33,145.78 L138.7,144.03 L138.07,142.3 L137.44,140.57 L136.8,138.86 L136.16,137.16 L135.52,135.48 L134.88,133.8 L134.23,132.14 L133.58,130.5 L132.92,128.86 L132.27,127.25 L131.61,125.65 L130.95,124.07 L130.29,122.5 L129.62,120.96 L128.96,119.43 L128.29,117.92 L127.62,116.43 L126.95,114.96 L126.28,113.51 L125.6,112.08 L124.93,110.68 L124.26,109.29 L123.58,107.93 L122.91,106.59 L122.23,105.27 L121.56,103.98 L120.88,102.71 L120.21,101.46 L119.53,100.24 L118.86,99.04 L118.19,97.87 L117.52,96.73 L116.85,95.61 L116.18,94.51 L115.51,93.44 L114.85,92.4 L114.18,91.39 L113.52,90.4 L112.86,89.44 L112.2,88.5 L111.55,87.59 L110.89,86.71 L110.24,85.86 L109.6,85.03 L108.95,84.23 L108.31,83.46 L107.67,82.71 L107.04,81.99 L106.41,81.3 L105.78,80.64 L105.15,80 L104.53,79.39 L103.91,78.81 L103.3,78.25 L102.69,77.72 L102.09,77.22 L101.49,76.74 L100.89,76.29 L100.3,75.86 L99.71,75.46 L99.13,75.09 L98.55,74.74 L97.97,74.41 L97.41,74.11 L96.84,73.84 L96.28,73.59 L95.73,73.36" fill="none" stroke="#e3141b" stroke-width="1.3" transform="translate(0.45,0)"/>
<path d="M163.29,447.08 L163.86,447.53 L164.43,447.97 L165,448.4 L165.57,448.81 L166.14,449.2 L166.71,449.58 L167.27,449.94 L167.84,450.29 L168.4,450.61 L168.96,450.92 L169.52,451.22 L170.08,451.49 L170.64,451.75 L171.19,451.99 L171.74,452.21 L172.29,452.41 L172.83,452.59 L173.38,452.75 L173.92,452.9 L174.45,453.02 L174.99,453.12 L175.52,453.2 L176.04,453.26 L176.56,453.3 L177.08,453.31 L177.59,453.31 L178.1,453.28 L178.61,453.23 L179.11,453.15 L179.6,453.05 L180.09,452.93 L180.58,452.79 L181.05,452.62 L181.53,452.42 L181.99,452.21 L182.45,451.96 L182.91,451.7 L183.36,451.4 L183.8,451.08 L184.23,450.74 L184.66,450.37 L185.08,449.97 L185.49,449.55 L185.9,449.1 L186.29,448.62 L186.68,448.12 L187.06,447.59 L187.44,447.03 L187.8,446.44 L188.16,445.83 L188.5,445.19 L188.84,444.53 L189.17,443.83 L189.49,443.11 L189.8,442.36 L190.1,441.58 L190.39,440.78 L190.67,439.94 L190.94,439.08 L191.21,438.19 L191.46,437.28 L191.7,436.33 L191.93,435.36 L192.15,434.36 L192.36,433.34 L192.56,432.28 L192.75,431.2 L192.93,430.1 L193.1,428.96 L193.26,427.81 L193.41,426.62 L193.54,425.41 L193.67,424.17 L193.78,422.91 L193.89,421.62 L193.98,420.31 L194.06,418.98 L194.13,417.62 L194.19,416.24 L194.24,414.83 L194.28,413.4 L194.31,411.95 L194.33,410.48 L194.34,408.98 L194.33,407.47 L194.32,405.93 L194.29,404.37 L194.26,402.8 L194.21,401.2 L194.16,399.59 L194.09,397.96 L194.02,396.31 L193.93,394.65 L193.84,392.97 L193.73,391.27 L193.62,389.56 L193.5,387.83 L193.36,386.09 L193.22,384.34 L193.07,382.57 L192.91,380.79 L192.74,379.01 L192.57,377.2 L192.38,375.39 L192.19,373.57 L191.99,371.75 L191.78,369.91 L191.56,368.06 L191.34,366.21 L191.11,364.35 L190.87,362.49 L190.63,360.62 L190.37,358.74 L190.12,356.86 L189.85,354.98 L189.58,353.09 L189.3,351.2 L189.02,349.31 L188.73,347.42 L188.44,345.53 L188.14,343.63 L187.84,341.74 L187.53,339.84 L187.21,337.95 L186.9,336.06 L186.57,334.16 L186.25,332.28 L185.92,330.39 L185.58,328.5 L185.24,326.62 L184.9,324.74 L184.56,322.87 L184.21,321 L183.86,319.13 L183.5,317.27 L183.15,315.41 L182.79,313.55 L182.43,311.71 L182.06,309.86 L181.69,308.02 L181.33,306.19 L180.95,304.36 L180.58,302.53 L180.21,300.71 L179.83,298.9 L179.45,297.09 L179.07,295.29 L178.69,293.49 L178.31,291.69 L177.92,289.9 L177.54,288.12 L177.15,286.34 L176.76,284.57 L176.37,282.8 L175.98,281.03 L175.59,279.27 L175.2,277.51 L174.81,275.75 L174.41,274 L174.02,272.25 L173.62,270.51 L173.22,268.77 L172.82,267.03 L172.42,265.29 L172.02,263.55 L171.61,261.82 L171.21,260.08 L170.8,258.35 L170.39,256.62 L169.99,254.89 L169.58,253.16 L169.16,251.43 L168.75,249.7 L168.33,247.96 L167.92,246.23 L167.5,244.5 L167.08,242.76 L166.65,241.03 L166.23,239.29 L165.8,237.55 L165.37,235.8 L164.94,234.06 L164.5,232.31 L164.07,230.56 L163.63,228.8 L163.19,227.04 L162.74,225.28 L162.29,223.52 L161.84,221.75 L161.39,219.98 L160.93,218.2 L160.47,216.42 L160,214.64 L159.54,212.85 L159.06,211.06 L158.59,209.27 L158.11,207.47 L157.63,205.67 L157.14,203.86 L156.65,202.05 L156.16,200.24 L155.66,198.42 L155.16,196.6 L154.65,194.78 L154.14,192.96 L153.63,191.13 L153.11,189.3 L152.58,187.47 L152.05,185.64 L151.52,183.8 L150.98,181.97 L150.44,180.13 L149.9,178.3 L149.35,176.46 L148.79,174.63 L148.23,172.8 L147.67,170.97 L147.1,169.14 L146.53,167.31 L145.95,165.49 L145.37,163.67 L144.78,161.85 L144.19,160.04 L143.6,158.23 L143,156.43 L142.4,154.64 L141.79,152.85 L141.18,151.07 L140.57,149.3 L139.95,147.53 L139.33,145.78 L138.7,144.03 L138.07,142.3 L137.44,140.57 L136.8,138.86 L136.16,137.16 L135.52,135.48 L134.88,133.8 L134.23,132.14 L133.58,130.5 L132.92,128.86 L132.27,127.25 L131.61,125.65 L130.95,124.07 L130.29,122.5 L129.62,120.96 L128.96,119.43 L128.29,117.92 L127.62,116.43 L126.95,114.96 L126.28,113.51 L125.6,112.08 L124.93,110.68 L124.26,109.29 L123.58,107.93 L122.91,106.59 L122.23,105.27 L121.56,103.98 L120.88,102.71 L120.21,101.46 L119.53,100.24 L118.86,99.04 L118.19,97.87 L117.52,96.73 L116.85,95.61 L116.18,94.51 L115.51,93.44 L114.85,92.4 L114.18,91.39 L113.52,90.4 L112.86,89.44 L112.2,88.5 L111.55,87.59 L110.89,86.71 L110.24,85.86 L109.6,85.03 L108.95,84.23 L108.31,83.46 L107.67,82.71 L107.04,81.99 L106.41,81.3 L105.78,80.64 L105.15,80 L104.53,79.39 L103.91,78.81 L103.3,78.25 L102.69,77.72 L102.09,77.22 L101.49,76.74 L100.89,76.29 L100.3,75.86 L99.71,75.46 L99.13,75.09 L98.55,74.74 L97.97,74.41 L97.41,74.11 L96.84,73.84 L96.28,73.59 L95.73,73.36" fill="none" stroke="#3a5656" stroke-width="1.25"/>
<ellipse cx="100.8" cy="91.9" rx="5.3" ry="11.3" transform="rotate(-16 100.8 91.9)" fill="none" stroke="#e60fe6" stroke-width="2.0"/>
<circle cx="100.8" cy="92.2" r="2.4" fill="none" stroke="#e5a93a" stroke-width="1.0"/>
<g fill="none">
<line x1="325" y1="122.67" x2="325" y2="422.87" stroke="#e6e6e6" stroke-width="0.8"/>
<line x1="365.3" y1="113.1" x2="365.3" y2="413.3" stroke="#e6e6e6" stroke-width="0.8"/>
<line x1="309.3" y1="145.5" x2="369.1" y2="131.3" stroke="#e6e6e6" stroke-width="0.8"/>
<line x1="309.3" y1="180.75" x2="369.1" y2="166.55" stroke="#e6e6e6" stroke-width="0.8"/>
<line x1="309.3" y1="216" x2="369.1" y2="201.8" stroke="#e6e6e6" stroke-width="0.8"/>
<line x1="309.3" y1="251.25" x2="369.1" y2="237.05" stroke="#e6e6e6" stroke-width="0.8"/>
<line x1="309.3" y1="286.5" x2="369.1" y2="272.3" stroke="#e6e6e6" stroke-width="0.8"/>
<line x1="309.3" y1="321.75" x2="369.1" y2="307.55" stroke="#e6e6e6" stroke-width="0.8"/>
<line x1="309.3" y1="357" x2="369.1" y2="342.8" stroke="#e6e6e6" stroke-width="0.8"/>
<line x1="309.3" y1="392.25" x2="369.1" y2="378.05" stroke="#e6e6e6" stroke-width="0.8"/>
<line x1="373.7" y1="115.43" x2="373.7" y2="415.63" stroke="#e6e6e6" stroke-width="0.8"/>
<line x1="397.5" y1="132.11" x2="397.5" y2="432.31" stroke="#e6e6e6" stroke-width="0.8"/>
<line x1="421.3" y1="148.8" x2="421.3" y2="449" stroke="#e6e6e6" stroke-width="0.8"/>
<line x1="445.1" y1="165.49" x2="445.1" y2="465.69" stroke="#e6e6e6" stroke-width="0.8"/>
<line x1="369.1" y1="131.3" x2="455.1" y2="191.6" stroke="#e6e6e6" stroke-width="0.8"/>
<line x1="369.1" y1="166.55" x2="455.1" y2="226.85" stroke="#e6e6e6" stroke-width="0.8"/>
<line x1="369.1" y1="201.8" x2="455.1" y2="262.1" stroke="#e6e6e6" stroke-width="0.8"/>
<line x1="369.1" y1="237.05" x2="455.1" y2="297.35" stroke="#e6e6e6" stroke-width="0.8"/>
<line x1="369.1" y1="272.3" x2="455.1" y2="332.6" stroke="#e6e6e6" stroke-width="0.8"/>
<line x1="369.1" y1="307.55" x2="455.1" y2="367.85" stroke="#e6e6e6" stroke-width="0.8"/>
<line x1="369.1" y1="342.8" x2="455.1" y2="403.1" stroke="#e6e6e6" stroke-width="0.8"/>
<line x1="369.1" y1="378.05" x2="455.1" y2="438.35" stroke="#e6e6e6" stroke-width="0.8"/>
<line x1="325" y1="422.87" x2="411" y2="483.17" stroke="#e6e6e6" stroke-width="0.8"/>
<line x1="365.3" y1="413.3" x2="451.3" y2="473.6" stroke="#e6e6e6" stroke-width="0.8"/>
<line x1="313.9" y1="429.83" x2="373.7" y2="415.63" stroke="#e6e6e6" stroke-width="0.8"/>
<line x1="337.7" y1="446.51" x2="397.5" y2="432.31" stroke="#e6e6e6" stroke-width="0.8"/>
<line x1="361.5" y1="463.2" x2="421.3" y2="449" stroke="#e6e6e6" stroke-width="0.8"/>
<line x1="385.3" y1="479.89" x2="445.1" y2="465.69" stroke="#e6e6e6" stroke-width="0.8"/>
</g>
<g stroke-linecap="square">
<line x1="309.3" y1="126.4" x2="309.3" y2="426.6" stroke="#7c7c7c" stroke-width="1.25"/>
<line x1="369.1" y1="112.2" x2="369.1" y2="412.4" stroke="#7c7c7c" stroke-width="1.25"/>
<line x1="455.1" y1="172.5" x2="455.1" y2="472.7" stroke="#7c7c7c" stroke-width="1.25"/>
<line x1="309.3" y1="126.4" x2="369.1" y2="112.2" stroke="#7c7c7c" stroke-width="1.25"/>
<line x1="369.1" y1="112.2" x2="455.1" y2="172.5" stroke="#7c7c7c" stroke-width="1.25"/>
<line x1="309.3" y1="426.6" x2="369.1" y2="412.4" stroke="#7c7c7c" stroke-width="1.25"/>
<line x1="369.1" y1="412.4" x2="455.1" y2="472.7" stroke="#7c7c7c" stroke-width="1.25"/>
<line x1="309.3" y1="426.6" x2="395.3" y2="486.9" stroke="#7c7c7c" stroke-width="1.25"/>
<line x1="395.3" y1="486.9" x2="455.1" y2="472.7" stroke="#7c7c7c" stroke-width="1.25"/>
</g>
<line x1="309.3" y1="145.5" x2="303" y2="141.05" stroke="#7c7c7c" stroke-width="1.15"/>
<text x="300.1" y="143.15" font-size="7.0" text-anchor="end" fill="#2e2e2e" font-family="&quot;Liberation Sans&quot;, sans-serif" stroke="#2e2e2e" stroke-width="0.3">-1.8</text>
<line x1="309.3" y1="180.75" x2="303" y2="176.3" stroke="#7c7c7c" stroke-width="1.15"/>
<text x="300.1" y="178.4" font-size="7.0" text-anchor="end" fill="#2e2e2e" font-family="&quot;Liberation Sans&quot;, sans-serif" stroke="#2e2e2e" stroke-width="0.3">-1.85</text>
<line x1="309.3" y1="216" x2="303" y2="211.55" stroke="#7c7c7c" stroke-width="1.15"/>
<text x="300.1" y="213.65" font-size="7.0" text-anchor="end" fill="#2e2e2e" font-family="&quot;Liberation Sans&quot;, sans-serif" stroke="#2e2e2e" stroke-width="0.3">-1.9</text>
<line x1="309.3" y1="251.25" x2="303" y2="246.8" stroke="#7c7c7c" stroke-width="1.15"/>
<text x="300.1" y="248.9" font-size="7.0" text-anchor="end" fill="#2e2e2e" font-family="&quot;Liberation Sans&quot;, sans-serif" stroke="#2e2e2e" stroke-width="0.3">-1.95</text>
<line x1="309.3" y1="286.5" x2="303" y2="282.05" stroke="#7c7c7c" stroke-width="1.15"/>
<text x="300.1" y="284.15" font-size="7.0" text-anchor="end" fill="#2e2e2e" font-family="&quot;Liberation Sans&quot;, sans-serif" stroke="#2e2e2e" stroke-width="0.3">-2</text>
<line x1="309.3" y1="321.75" x2="303" y2="317.3" stroke="#7c7c7c" stroke-width="1.15"/>
<text x="300.1" y="319.4" font-size="7.0" text-anchor="end" fill="#2e2e2e" font-family="&quot;Liberation Sans&quot;, sans-serif" stroke="#2e2e2e" stroke-width="0.3">-2.05</text>
<line x1="309.3" y1="357" x2="303" y2="352.55" stroke="#7c7c7c" stroke-width="1.15"/>
<text x="300.1" y="354.65" font-size="7.0" text-anchor="end" fill="#2e2e2e" font-family="&quot;Liberation Sans&quot;, sans-serif" stroke="#2e2e2e" stroke-width="0.3">-2.1</text>
<line x1="309.3" y1="392.25" x2="303" y2="387.8" stroke="#7c7c7c" stroke-width="1.15"/>
<text x="300.1" y="389.9" font-size="7.0" text-anchor="end" fill="#2e2e2e" font-family="&quot;Liberation Sans&quot;, sans-serif" stroke="#2e2e2e" stroke-width="0.3">-2.15</text>
<line x1="313.9" y1="429.83" x2="306.1" y2="431.73" stroke="#7c7c7c" stroke-width="1.15"/>
<text x="302.9" y="440.33" font-size="7.0" text-anchor="middle" fill="#2e2e2e" font-family="&quot;Liberation Sans&quot;, sans-serif" stroke="#2e2e2e" stroke-width="0.3">-1.25</text>
<line x1="337.7" y1="446.51" x2="329.9" y2="448.41" stroke="#7c7c7c" stroke-width="1.15"/>
<text x="326.7" y="457.01" font-size="7.0" text-anchor="middle" fill="#2e2e2e" font-family="&quot;Liberation Sans&quot;, sans-serif" stroke="#2e2e2e" stroke-width="0.3">-1.3</text>
<line x1="361.5" y1="463.2" x2="353.7" y2="465.1" stroke="#7c7c7c" stroke-width="1.15"/>
<text x="350.5" y="473.7" font-size="7.0" text-anchor="middle" fill="#2e2e2e" font-family="&quot;Liberation Sans&quot;, sans-serif" stroke="#2e2e2e" stroke-width="0.3">-1.35</text>
<line x1="385.3" y1="479.89" x2="377.5" y2="481.79" stroke="#7c7c7c" stroke-width="1.15"/>
<text x="374.3" y="490.39" font-size="7.0" text-anchor="middle" fill="#2e2e2e" font-family="&quot;Liberation Sans&quot;, sans-serif" stroke="#2e2e2e" stroke-width="0.3">-1.4</text>
<line x1="411" y1="483.17" x2="417.3" y2="487.57" stroke="#7c7c7c" stroke-width="1.15"/>
<text x="420.5" y="496.67" font-size="7.0" text-anchor="start" fill="#2e2e2e" font-family="&quot;Liberation Sans&quot;, sans-serif" stroke="#2e2e2e" stroke-width="0.3">3.82</text>
<line x1="451.3" y1="473.6" x2="457.6" y2="478" stroke="#7c7c7c" stroke-width="1.15"/>
<text x="460.8" y="487.1" font-size="7.0" text-anchor="start" fill="#2e2e2e" font-family="&quot;Liberation Sans&quot;, sans-serif" stroke="#2e2e2e" stroke-width="0.3">3.825</text>
<text x="278.4" y="467.6" font-size="7.0" fill="#2e2e2e" stroke="#2e2e2e" stroke-width="0.12" font-family="&quot;Liberation Sans&quot;, sans-serif">&#215;<tspan dx="1">10</tspan><tspan font-size="5.8" dy="-3.6">4</tspan></text>
<text x="477.4" y="502.0" font-size="7.2" fill="#2e2e2e" stroke="#2e2e2e" stroke-width="0.12" font-family="&quot;Liberation Sans&quot;, sans-serif">&#215;<tspan dx="1">10</tspan><tspan font-size="6" dy="-3.8">5</tspan></text>
<text x="332.8" y="498.6" font-size="11" text-anchor="middle" fill="#555" font-family="&quot;Liberation Serif&quot;, serif" font-style="italic">y</text>
<text x="450.6" y="510" font-size="11" text-anchor="middle" fill="#555" font-family="&quot;Liberation Serif&quot;, serif" font-style="italic">x</text>
<text x="0" y="0" font-size="9.5" text-anchor="middle" fill="#2e2e2e" font-family="&quot;Liberation Serif&quot;, serif" font-style="italic" transform="translate(275.0,276.2) rotate(-90)">z</text>
<line x1="380.2" y1="174.5" x2="418" y2="308.2" stroke="#f5202a" stroke-width="1.9"/>
<line x1="382.3" y1="202" x2="411.2" y2="305.4" stroke="#5ad2d6" stroke-width="1.5"/>
<polygon points="180.8,188.6 269.7,226.9 275.3,213.9 289.2,249.7 254.4,263.6 259.2,251.9 170.6,213.1" fill="none" stroke="#4f78a8" stroke-width="1.5" stroke-linejoin="miter"/>
<rect x="260.1" y="31.8" width="152.4" height="65.6" fill="#fff" stroke="#303030" stroke-width="1.5"/>
<line x1="264" y1="41.2" x2="293.2" y2="41.2" stroke="#d8040c" stroke-width="2.8"/>
<line x1="264" y1="57.0" x2="293.2" y2="57.0" stroke="#deb04a" stroke-width="1.4"/>
<circle cx="277.4" cy="57.0" r="2.7" fill="none" stroke="#d9a22e" stroke-width="1.1"/>
<line x1="264" y1="73.4" x2="293.2" y2="73.4" stroke="#d60bd6" stroke-width="2.6"/>
<line x1="264" y1="89.0" x2="293.2" y2="89.0" stroke="#3fa2a3" stroke-width="1.5"/>
<text x="295.9" y="45.3" font-size="11.85" fill="#1a1a1a" stroke="#1a1a1a" stroke-width="0.42" font-family="&quot;Liberation Sans&quot;, sans-serif">Target Orbit (CR3BP)</text>
<text x="295.9" y="61.1" font-size="11.85" fill="#1a1a1a" stroke="#1a1a1a" stroke-width="0.42" font-family="&quot;Liberation Sans&quot;, sans-serif">Moon</text>
<text x="295.9" y="77.5" font-size="11.85" fill="#1a1a1a" stroke="#1a1a1a" stroke-width="0.42" font-family="&quot;Liberation Sans&quot;, sans-serif">LLO</text>
<text x="295.9" y="93.1" font-size="11.85" fill="#1a1a1a" stroke="#1a1a1a" stroke-width="0.42" font-family="&quot;Liberation Sans&quot;, sans-serif">Stable Manifold</text>
</g>
</svg>
</body></html>
